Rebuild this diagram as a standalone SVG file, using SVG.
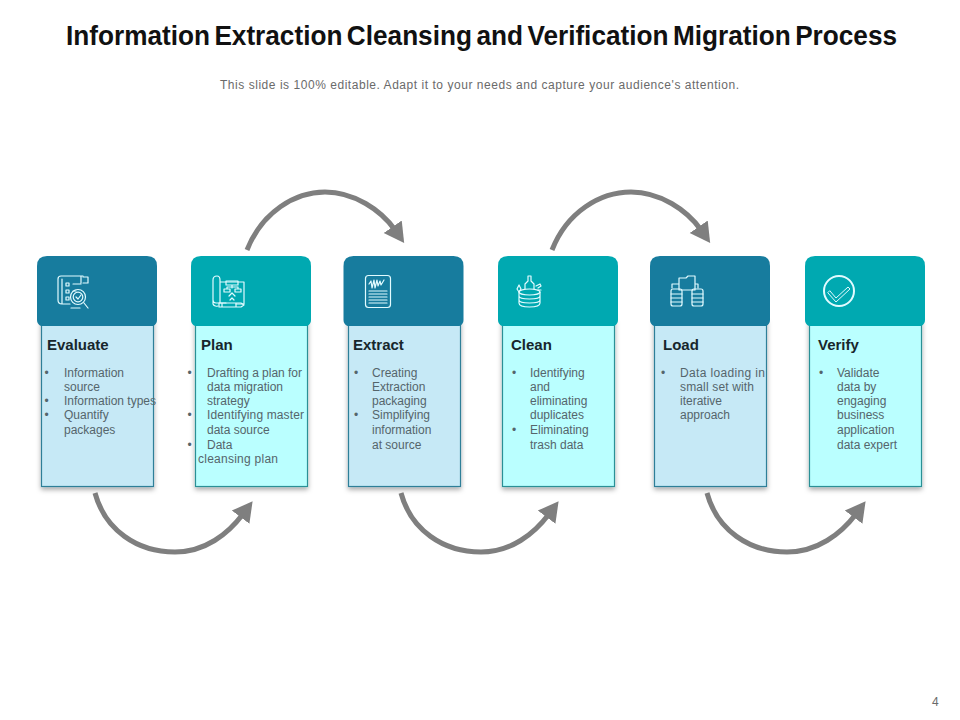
<svg xmlns="http://www.w3.org/2000/svg" width="960" height="720" viewBox="0 0 960 720">
<style>
text{font-family:"Liberation Sans",Arial,sans-serif}
.title{font-size:28px;font-weight:bold;fill:#111;word-spacing:-3px}
.sub{font-size:12px;fill:#6a6a6a}
.h{font-size:15px;font-weight:bold;fill:#17262c}
.t{font-size:12px;fill:#55656b}
.bA{fill:#c6e9f6;stroke:#2f7f98;stroke-width:1.2;filter:url(#sh)}
.bB{fill:#baffff;stroke:#2a9096;stroke-width:1.2;filter:url(#sh)}
.hA{fill:#177c9e}
.hB{fill:#00a9b1}
.i{fill:none;stroke:#e2fbff;stroke-width:1.2;stroke-linecap:round;stroke-linejoin:round}
.c{fill:none;stroke:#7f7f7f;stroke-width:5;marker-end:url(#ah)}
</style>
<defs>
<filter id="sh" x="-10%" y="-10%" width="120%" height="120%"><feDropShadow dx="0" dy="2.5" stdDeviation="2.5" flood-color="#000" flood-opacity="0.35"/></filter>
<marker id="ah" markerUnits="userSpaceOnUse" markerWidth="26" markerHeight="26" refX="4" refY="13" orient="auto"><path d="M0,2L20,13L0,24Z" fill="#7f7f7f"/></marker>
<path id="head" d="M0,10V2Q0,-8 10,-8H110Q120,-8 120,2V56Q120,60 116,62H4Q0,60 0,56Z"/>
</defs>
<text class="title" x="66" y="45" textLength="831" lengthAdjust="spacingAndGlyphs">Information Extraction Cleansing and Verification Migration Process</text>
<text class="sub" x="220" y="89" textLength="519">This slide is 100% editable. Adapt it to your needs and capture your audience's attention.</text>
<text class="sub" x="932" y="706">4</text>

<g id="connectors">
<path class="c" d="M247,250C262,212 295,192 325,192C354,192 381,210 395,230"/>
<path class="c" d="M552,250C567,212 600,192 631,192C660,192 687,210 701,230"/>
<path class="c" d="M95,493C105,530 137,552 175,552C205,552 228,534 243,514"/>
<path class="c" d="M401,493C411,530 443,552 481,552C511,552 534,534 549,514"/>
<path class="c" d="M707,493C717,530 749,552 787,552C817,552 841,534 856,514"/>
</g>

<g id="evaluate">
<rect class="bA" x="41.5" y="320" width="112" height="166.5"/>
<use href="#head" class="hA" x="37" y="264"/>
<g class="i">
<path d="M61,276H83M58,279Q58,276 61,276M58,279V300Q58,304 62,304H70M62,304V279M81,276V283M66,283h3v3h-3zM66,290h3v3h-3zM66,297h3v3h-3zM73,284h8M73,291h3M71,308H80M83,277h5v6h-5"/>
<circle cx="78" cy="297" r="7.5"/><circle cx="78" cy="297" r="4.8"/><path d="M76,297l2,2 3,-4M84,303l4,5"/>
</g>
<text class="h" x="47" y="350">Evaluate</text>
<text class="t"><tspan x="44.5" y="377">•</tspan><tspan x="64" y="377">Information</tspan><tspan x="64" y="391">source</tspan><tspan x="44.5" y="405">•</tspan><tspan x="64" y="405" textLength="92">Information types</tspan><tspan x="44.5" y="419">•</tspan><tspan x="64" y="419">Quantify</tspan><tspan x="64" y="434">packages</tspan></text>
</g>

<g id="plan">
<rect class="bB" x="195.5" y="320" width="112" height="166.5"/>
<use href="#head" class="hB" x="191" y="264"/>
<g class="i">
<path d="M213,280Q213,276 217,276Q220,276 220,280V303H216Q213,303 213,300ZM220,282H244V304H236M220,303H226M213,300V304Q214,307 218,306"/>
<path d="M226,281h12v4h-12zM224,289h6v3h-6zM235,289h6v3h-6zM232,285v3M227,289v-2h11v2M229,296l3,-3 3,3M230,300l2,-2 2,2"/>
<path d="M219,303h22l3,2 -3,2h-22zM222,303v4M236,303v4"/>
</g>
<text class="h" x="201" y="350">Plan</text>
<text class="t"><tspan x="187.5" y="377">•</tspan><tspan x="207" y="377" textLength="95">Drafting a plan for</tspan><tspan x="207" y="391">data migration</tspan><tspan x="207" y="405">strategy</tspan><tspan x="187.5" y="419">•</tspan><tspan x="207" y="419" textLength="97">Identifying master</tspan><tspan x="207" y="434">data source</tspan><tspan x="187.5" y="449">•</tspan><tspan x="207" y="449">Data</tspan><tspan x="198" y="463" textLength="80">cleansing plan</tspan></text>
</g>

<g id="extract">
<rect class="bA" x="348.5" y="320" width="112" height="166.5"/>
<use href="#head" class="hA" x="343.500" y="264"/>
<g class="i" stroke-width="1.4">
<rect x="365.500" y="275.500" width="25" height="32" rx="3"/>
<path d="M369,284l2,-3 1,7 2,-8 1,8 2,-8 1,6 2,-5 1,4 3,-5M369,291H387M369,294H387M369,297H387M369,300H387M369,303H387"/>
</g>
<text class="h" x="353" y="350">Extract</text>
<text class="t"><tspan x="354" y="377">•</tspan><tspan x="372" y="377">Creating</tspan><tspan x="372" y="391">Extraction</tspan><tspan x="372" y="405">packaging</tspan><tspan x="354" y="419">•</tspan><tspan x="372" y="419">Simplifying</tspan><tspan x="372" y="434">information</tspan><tspan x="372" y="449">at source</tspan></text>
</g>

<g id="clean">
<rect class="bB" x="502.500" y="320" width="112" height="166.5"/>
<use href="#head" class="hB" x="498" y="264"/>
<g class="i">
<ellipse cx="529.500" cy="292" rx="10.500" ry="3"/>
<path d="M519,292V303Q519,307 529.500,307Q540,307 540,303V292M519,296Q519,299 529.500,299Q540,299 540,296M519,300Q519,303 529.500,303Q540,303 540,300"/>
<path d="M525,289V284L528,281V276H531V281L534,284V289M519,285l-2,4 2,3 2,-3zM536,286l4,-2 1,2 -3,2M538,290h3"/>
</g>
<text class="h" x="511" y="350">Clean</text>
<text class="t"><tspan x="512" y="377">•</tspan><tspan x="530" y="377">Identifying</tspan><tspan x="530" y="391">and</tspan><tspan x="530" y="405">eliminating</tspan><tspan x="530" y="419">duplicates</tspan><tspan x="512" y="434">•</tspan><tspan x="530" y="434">Eliminating</tspan><tspan x="530" y="449">trash data</tspan></text>
</g>

<g id="load">
<rect class="bA" x="654.500" y="320" width="112" height="166.5"/>
<use href="#head" class="hA" x="650" y="264"/>
<g class="i">
<path d="M679,283V278H686L688,276H695V290H679ZM679,284H672V288M695,284H698V288"/>
<rect x="671" y="289" width="11" height="17" rx="2"/><rect x="692" y="289" width="11" height="17" rx="2"/>
<path d="M671,294H682M671,298H682M671,302H682M692,294H703M692,298H703M692,302H703"/>
</g>
<text class="h" x="663" y="350">Load</text>
<text class="t"><tspan x="661" y="377">•</tspan><tspan x="680" y="377" textLength="85">Data loading  in</tspan><tspan x="680" y="391" textLength="74">small set with</tspan><tspan x="680" y="405">iterative</tspan><tspan x="680" y="419">approach</tspan></text>
</g>

<g id="verify">
<rect class="bB" x="809.500" y="320" width="112" height="166.5"/>
<use href="#head" class="hB" x="805" y="264"/>
<g class="i">
<circle cx="839" cy="291" r="15" stroke-width="2"/>
<path d="M830,291l6,7 12,-11 2,2 -14,13 -8,-9z" stroke-width="1"/>
</g>
<text class="h" x="818" y="350">Verify</text>
<text class="t"><tspan x="819" y="377">•</tspan><tspan x="837" y="377">Validate</tspan><tspan x="837" y="391">data by</tspan><tspan x="837" y="405">engaging</tspan><tspan x="837" y="419">business</tspan><tspan x="837" y="434">application</tspan><tspan x="837" y="449">data expert</tspan></text>
</g>
</svg>
